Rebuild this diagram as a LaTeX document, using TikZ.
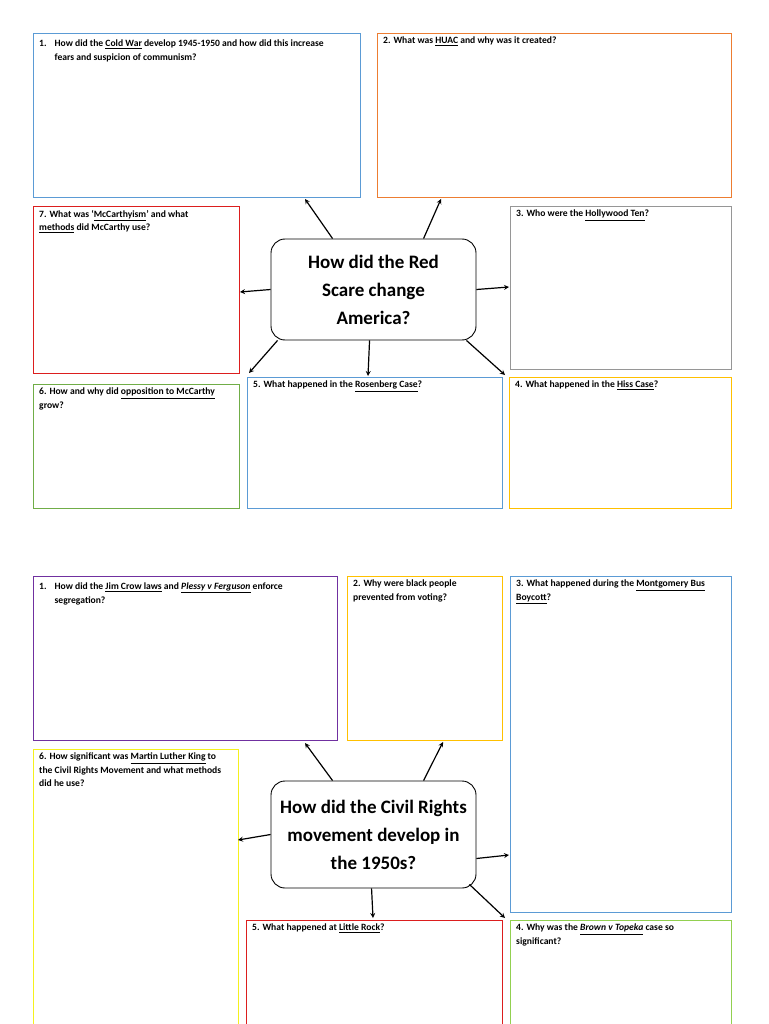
\documentclass[tikz,border=0pt]{standalone}
\usepackage{fontspec}
\setmainfont{Carlito}
\newcommand\qul[1]{\underline{#1}}
\begin{document}
\begin{tikzpicture}[x=1pt,y=-1pt,
  box/.style={draw=#1,line width=0.8pt},
  qtext/.style={anchor=north west,inner sep=0pt,align=left,font=\fontsize{9.6}{13.5}\selectfont\bfseries},
  hub/.style={draw,rounded corners=14pt,line width=0.9pt,align=center,font=\fontsize{19}{28}\selectfont\bfseries},
  arr/.style={-stealth,line width=1.2pt}]
\useasboundingbox (0,0) rectangle (768,1024);
\definecolor{cblue}{RGB}{91,155,213}
\definecolor{corange}{RGB}{237,125,49}
\definecolor{cred}{RGB}{220,30,30}
\definecolor{cgray}{RGB}{150,150,150}
\definecolor{cgreen}{RGB}{112,173,71}
\definecolor{cyellow}{RGB}{255,192,0}
\definecolor{cpurple}{RGB}{112,48,160}
\definecolor{cyel2}{RGB}{245,240,30}
\definecolor{cgreen2}{RGB}{146,208,80}
% top
\draw[box=cblue] (33,33) rectangle (360,197);
\node[qtext] (t1) at (39,37) {1.\hspace{8pt}\begin{tabular}[t]{@{}l@{}}How did the \qul{Cold War} develop 1945-1950 and how did this increase\\fears and suspicion of communism?\end{tabular}};
\draw[box=corange] (377,33) rectangle (731,197);
\node[qtext] (t2) at (383,37) {2. What was \qul{HUAC} and why was it created?};
\draw[box=cred] (33,206) rectangle (239,373);
\node[qtext] (t7) at (39,210) {7. What was `\qul{McCarthyism}' and what\\\qul{methods} did McCarthy use?};
\draw[box=cgray] (510,206) rectangle (731,369);
\node[qtext] (t3) at (516,210) {3. Who were the \qul{Hollywood Ten}?};
\draw[box=cgreen] (33,384) rectangle (239,508);
\node[qtext] (t6) at (39,388) {6. How and why did \qul{opposition to McCarthy}\\grow?};
\draw[box=cblue] (247,377) rectangle (502,508);
\node[qtext] (t5) at (253,381) {5. What happened in the \qul{Rosenberg Case}?};
\draw[box=cyellow] (509,377) rectangle (731,508);
\node[qtext] (t4) at (515,381) {4. What happened in the \qul{Hiss Case}?};
\node[hub,minimum width=205pt,minimum height=101pt] (h1) at (373.5,289.5) {How did the Red\\Scare change\\America?};
\coordinate (a1) at (305,199); \coordinate (a2) at (441,199);
\coordinate (a3) at (240,292); \coordinate (a4) at (509,287);
\coordinate (a5) at (249,373); \coordinate (a6) at (368,376); \coordinate (a7) at (505,375);
\draw[arr] (h1.north west)++(62,0) -- (a1);
\draw[arr] (h1.north west)++(153,0) -- (a2);
\draw[arr] (h1.west) -- (a3);
\draw[arr] (h1.east) -- (a4);
\draw[arr] (h1.south west)++(7,0) -- (a5);
\draw[arr] (h1.south west)++(99,0) -- (a6);
\draw[arr] (h1.south east)++(-10,0) -- (a7);
% bottom
\draw[box=cpurple] (33,576) rectangle (337,740);
\node[qtext] (b1) at (39,580) {1.\hspace{8pt}\begin{tabular}[t]{@{}l@{}}How did the \qul{Jim Crow laws} and \qul{\itshape Plessy v Ferguson} enforce\\segregation?\end{tabular}};
\draw[box=cyellow] (347,576) rectangle (502,740);
\node[qtext] (b2) at (353,580) {2. Why were black people\\prevented from voting?};
\draw[box=cblue] (510,576) rectangle (731,912);
\node[qtext] (b3) at (516,580) {3. What happened during the \qul{Montgomery Bus}\\\qul{Boycott}?};
\draw[box=cyel2] (33,749) rectangle (238,1030);
\node[qtext] (b6) at (39,753) {6. How significant was \qul{Martin Luther King} to\\the Civil Rights Movement and what methods\\did he use?};
\draw[box=cred] (246,920) rectangle (502,1030);
\node[qtext] (b5) at (252,924) {5. What happened at \qul{Little Rock}?};
\draw[box=cgreen2] (510,920) rectangle (731,1030);
\node[qtext] (b4) at (516,924) {4. Why was the \qul{\itshape Brown v Topeka} case so\\significant?};
\node[hub,minimum width=205pt,minimum height=107pt] (h2) at (373.5,834.5) {How did the Civil Rights\\movement develop in\\the 1950s?};
\coordinate (c1) at (305,743); \coordinate (c2) at (443,742);
\coordinate (c3) at (238,840); \coordinate (c4) at (509,855);
\coordinate (c5) at (373,918); \coordinate (c6) at (505,918);
\draw[arr] (h2.north west)++(62,0) -- (c1);
\draw[arr] (h2.north west)++(153,0) -- (c2);
\draw[arr] (h2.west) -- (c3);
\draw[arr] (h2.east)++(0,24) -- (c4);
\draw[arr] (h2.south west)++(101,0) -- (c5);
\draw[arr] (h2.south east)++(-7,-4) -- (c6);
\end{tikzpicture}
\end{document}
